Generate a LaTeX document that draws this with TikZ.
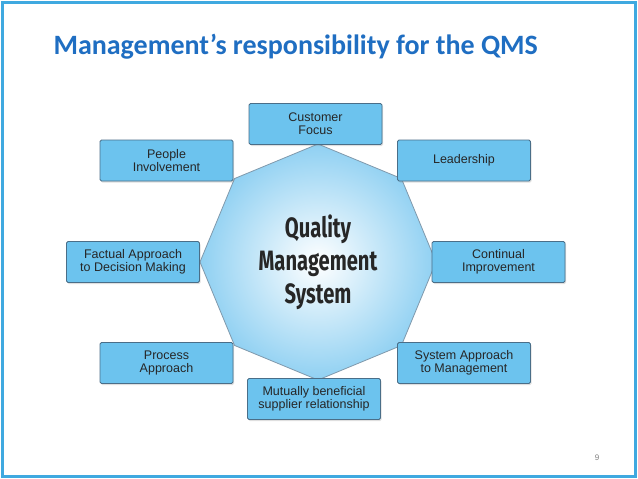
\documentclass[tikz,border=0pt]{standalone}
\usepackage{fontspec}
\setmainfont{Liberation Sans}
\newfontfamily\titlefont{Carlito}
\newfontfamily\condfont{Fira Sans}
\usetikzlibrary{shapes.geometric,shadows}
\definecolor{frame}{HTML}{3FA9E0}
\definecolor{titleblue}{HTML}{1F6EC2}
\definecolor{boxfill}{HTML}{6CC3EE}
\definecolor{boxdraw}{HTML}{4A6E88}
\definecolor{octfill}{HTML}{8FD0F2}
\tikzset{
 pbox/.style={draw=boxdraw,line width=0.8pt,fill=boxfill,rounded corners=1.5pt,
   minimum width=133pt,minimum height=41pt,align=center,font=\fontsize{12.5}{13}\selectfont,
   text=black!85,drop shadow={opacity=0.25,shadow xshift=1pt,shadow yshift=-1.5pt}},
}
\begin{document}
\begin{tikzpicture}[x=1pt,y=-1pt]
\useasboundingbox (0,0) rectangle (638,479);
\fill[white] (0,0) rectangle (638,479);
\draw[frame,line width=3pt] (2.5,2.5) rectangle (635.5,476.5);
\node[anchor=west,text=titleblue,font=\titlefont\bfseries\fontsize{28}{32}\selectfont] (title) at (50,47) {Management’s responsibility for the QMS};
\node[regular polygon,regular polygon sides=8,shape border rotate=22.5,minimum size=236pt,inner sep=0pt,
  draw=boxdraw!70,line width=0.8pt,inner color=white,outer color=octfill] (qms) at (318,262) {};
\node[font=\condfont\bfseries\fontsize{28}{33}\selectfont,align=center,text=black!85,xscale=0.72] (qt) at (318,262) {Quality\\Management\\System};
\node[pbox] (cf) at (315.5,124) {Customer\\Focus};
\node[pbox] (ld) at (464,160.5) {Leadership};
\node[pbox] (ci) at (498.5,262) {Continual\\Improvement};
\node[pbox] (sa) at (464,363) {System Approach\\to Management};
\node[pbox] (mb) at (314,399) {Mutually beneficial\\supplier relationship};
\node[pbox] (pa) at (166.5,363) {Process\\Approach};
\node[pbox] (fa) at (133,262) {Factual Approach\\to Decision Making};
\node[pbox] (pi) at (166.5,160.5) {People\\Involvement};
\node[text=gray,font=\fontsize{8}{9}\selectfont] (pg) at (597,458) {9};
\end{tikzpicture}
\end{document}
